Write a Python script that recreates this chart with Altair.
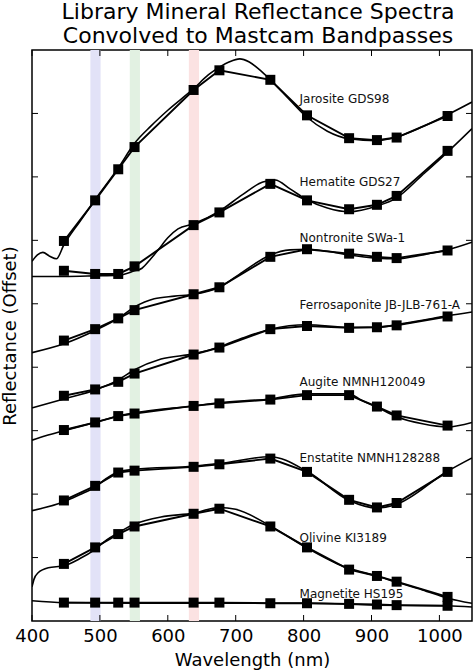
import altair as alt
import pandas as pd

# Mastcam filter centre wavelengths (nm)
FILTER_WL = [447, 493, 527, 551, 638, 676, 751, 805, 867, 908, 937, 1012]

# Library spectra (offset reflectance), sampled wavelengths and values
JAROSITE_WL = [400, 408, 416, 426, 436, 447, 470, 493, 527, 551, 575, 600, 638, 660, 676, 690,
               706, 720, 735, 751, 780, 805, 835, 867, 908, 937, 975, 1012, 1048]
JAROSITE_R = [5.67, 5.77, 5.81, 5.75, 5.71, 5.93, 6.29, 6.64, 7.14, 7.53, 7.80, 8.05, 8.39, 8.61,
              8.73, 8.81, 8.86, 8.81, 8.69, 8.53, 8.21, 7.94, 7.72, 7.60, 7.57, 7.63, 7.79, 7.98, 8.18]
JAROSITE_F = [5.99, 6.63, 7.12, 7.47, 8.37, 8.68, 8.53, 7.97, 7.61, 7.58, 7.62, 7.96]

HEMATITE_WL = [400, 447, 493, 527, 551, 562, 575, 586, 600, 615, 638, 676, 710, 740, 758, 780,
               805, 835, 867, 908, 937, 975, 1012, 1048]
HEMATITE_R = [5.43, 5.43, 5.44, 5.45, 5.52, 5.56, 5.71, 5.85, 6.04, 6.18, 6.26, 6.46, 6.72, 6.92,
              6.95, 6.81, 6.64, 6.51, 6.45, 6.54, 6.67, 7.03, 7.39, 7.76]
HEMATITE_F = [5.52, 5.47, 5.47, 5.59, 6.24, 6.44, 6.89, 6.63, 6.49, 6.56, 6.70, 7.41]

NONTRONITE_WL = [400, 447, 493, 527, 551, 580, 610, 638, 676, 710, 751, 780, 805, 840, 867, 908,
                 937, 975, 1012, 1048]
NONTRONITE_R = [4.23, 4.37, 4.58, 4.77, 4.95, 5.08, 5.12, 5.15, 5.26, 5.50, 5.77, 5.85, 5.86, 5.82,
                5.77, 5.72, 5.71, 5.77, 5.85, 5.97]
NONTRONITE_F = [4.42, 4.60, 4.77, 4.90, 5.15, 5.26, 5.74, 5.86, 5.79, 5.74, 5.72, 5.84]

FERROSAPONITE_WL = [400, 447, 493, 527, 551, 590, 638, 676, 710, 751, 805, 867, 908, 937, 975,
                    1012, 1048]
FERROSAPONITE_R = [3.36, 3.50, 3.64, 3.80, 3.96, 4.13, 4.21, 4.32, 4.46, 4.60, 4.67, 4.63, 4.63,
                   4.67, 4.74, 4.81, 4.87]
FERROSAPONITE_F = [3.55, 3.65, 3.77, 3.90, 4.20, 4.31, 4.60, 4.65, 4.62, 4.63, 4.66, 4.80]

AUGITE_WL = [400, 420, 447, 493, 527, 551, 638, 676, 751, 805, 867, 885, 908, 937, 975, 1012, 1048]
AUGITE_R = [2.85, 2.92, 3.00, 3.13, 3.23, 3.28, 3.39, 3.44, 3.50, 3.58, 3.58, 3.48, 3.37, 3.22,
            3.11, 3.06, 3.13]
AUGITE_F = [3.01, 3.13, 3.23, 3.27, 3.39, 3.43, 3.49, 3.56, 3.56, 3.38, 3.24, 3.08]

ENSTATITE_WL = [400, 447, 470, 493, 510, 527, 551, 638, 676, 751, 805, 867, 908, 937, 1012, 1048]
ENSTATITE_R = [1.74, 1.88, 1.99, 2.11, 2.25, 2.35, 2.39, 2.44, 2.48, 2.59, 2.36, 1.90, 1.78, 1.84,
               2.36, 2.57]
ENSTATITE_F = [1.90, 2.13, 2.34, 2.37, 2.43, 2.47, 2.56, 2.35, 1.91, 1.79, 1.86, 2.35]

OLIVINE_WL = [400, 403, 409, 424, 447, 470, 493, 510, 527, 551, 566, 590, 638, 676, 700, 751, 805,
              850, 867, 908, 937, 975, 1012, 1048]
OLIVINE_R = [0.54, 0.66, 0.76, 0.84, 0.87, 0.98, 1.13, 1.28, 1.39, 1.53, 1.58, 1.64, 1.70, 1.79,
             1.76, 1.50, 1.15, 0.90, 0.83, 0.71, 0.61, 0.49, 0.36, 0.28]
OLIVINE_F = [0.90, 1.16, 1.37, 1.49, 1.69, 1.77, 1.49, 1.16, 0.81, 0.71, 0.62, 0.38]

MAGNETITE_WL = [400, 447, 550, 676, 805, 908, 1012, 1048]
MAGNETITE_R = [0.32, 0.29, 0.28, 0.28, 0.28, 0.25, 0.24, 0.22]
MAGNETITE_F = [0.29, 0.29, 0.29, 0.29, 0.29, 0.29, 0.28, 0.28, 0.27, 0.26, 0.25, 0.24]

MINERALS = ["Jarosite GDS98", "Hematite GDS27", "Nontronite SWa-1", "Ferrosaponite JB-JLB-761-A",
            "Augite NMNH120049", "Enstatite NMNH128288", "Olivine KI3189", "Magnetite HS195"]
LABEL_R = [8.16, 6.86, 5.97, 4.91, 3.71, 2.51, 1.25, 0.37]
LABEL_WL = 794

# Highlighted filter passbands (blue, green, red)
BAND_LO = [486, 544, 631]
BAND_HI = [501, 559, 646]
BAND_NAME = ["blue", "green", "red"]
BAND_FILL = ["#e2e2f7", "#e2f1e2", "#fbe2e2"]

X_TICKS = [400, 500, 600, 700, 800, 900, 1000]
Y_TICKS = [1, 2, 3, 4, 5, 6, 7, 8]

W, H = 440, 571

spectra = [
    (JAROSITE_WL, JAROSITE_R, JAROSITE_F),
    (HEMATITE_WL, HEMATITE_R, HEMATITE_F),
    (NONTRONITE_WL, NONTRONITE_R, NONTRONITE_F),
    (FERROSAPONITE_WL, FERROSAPONITE_R, FERROSAPONITE_F),
    (AUGITE_WL, AUGITE_R, AUGITE_F),
    (ENSTATITE_WL, ENSTATITE_R, ENSTATITE_F),
    (OLIVINE_WL, OLIVINE_R, OLIVINE_F),
    (MAGNETITE_WL, MAGNETITE_R, MAGNETITE_F),
]

smooth_rows, filt_rows = [], []
for name, (wl, r, f) in zip(MINERALS, spectra):
    smooth_rows += [{"mineral": name, "wl": a, "r": b} for a, b in zip(wl, r)]
    filt_rows += [{"mineral": name, "wl": a, "r": b} for a, b in zip(FILTER_WL, f)]
smooth_df = pd.DataFrame(smooth_rows)
filt_df = pd.DataFrame(filt_rows)
label_df = pd.DataFrame({"mineral": MINERALS, "wl": [LABEL_WL] * len(MINERALS), "r": LABEL_R})
band_df = pd.DataFrame({"band": BAND_NAME, "wl": BAND_LO, "wl2": BAND_HI})
xtick_df = pd.DataFrame({"wl": X_TICKS})
ytick_df = pd.DataFrame({"r": Y_TICKS})

FONT = "DejaVu Sans"
xscale = alt.Scale(domain=[400, 1048], nice=False, zero=False)
yscale = alt.Scale(domain=[0, 9], nice=False, zero=False)
xaxis = alt.Axis(values=X_TICKS, format="d", ticks=False, domain=False, grid=False,
                 labelFont=FONT, labelFontSize=18, labelColor="black", labelPadding=6,
                 labelFlush=False, titleFont=FONT, titleFontSize=18, titleFontWeight="normal",
                 titleColor="black", titlePadding=6)
yaxis = alt.Axis(labels=False, ticks=False, domain=False, grid=False, titleFont=FONT,
                 titleFontSize=18, titleFontWeight="normal", titleColor="black", titlePadding=13)


def X(field="wl"):
    return alt.X(f"{field}:Q", scale=xscale, axis=xaxis, title="Wavelength (nm)")


def Y(field="r"):
    return alt.Y(f"{field}:Q", scale=yscale, axis=yaxis, title="Reflectance (Offset)")


bands = alt.Chart(band_df).mark_rect(opacity=1).encode(
    x=X(), x2="wl2:Q", y=alt.value(0), y2=alt.value(H),
    color=alt.Color("band:N", scale=alt.Scale(domain=BAND_NAME, range=BAND_FILL), legend=None),
)

smooth = alt.Chart(smooth_df).mark_line(
    color="black", strokeWidth=1.6, interpolate="monotone", clip=True
).encode(x=X(), y=Y(), detail="mineral:N", order="wl:Q")

filt_line = alt.Chart(filt_df).mark_line(color="black", strokeWidth=1.9, clip=True).encode(
    x=X(), y=Y(), detail="mineral:N", order="wl:Q"
)

squares = alt.Chart(filt_df).mark_point(
    shape="square", filled=True, size=100, color="black", opacity=1
).encode(x=X(), y=Y())

labels = alt.Chart(label_df).mark_text(
    align="left", baseline="alphabetic", font=FONT, fontSize=12, color="#111111"
).encode(x=X(), y=Y(), text="mineral:N")

tick_style = dict(color="black", strokeWidth=1)
xt_bottom = alt.Chart(xtick_df).mark_rule(**tick_style).encode(
    x=X(), y=alt.value(H), y2=alt.value(H - 6))
xt_top = alt.Chart(xtick_df).mark_rule(**tick_style).encode(
    x=X(), y=alt.value(0), y2=alt.value(6))
yt_left = alt.Chart(ytick_df).mark_rule(**tick_style).encode(
    y=Y(), x=alt.value(0), x2=alt.value(6))
yt_right = alt.Chart(ytick_df).mark_rule(**tick_style).encode(
    y=Y(), x=alt.value(W - 6), x2=alt.value(W))

chart = alt.layer(
    bands, smooth, filt_line, squares, labels, xt_bottom, xt_top, yt_left, yt_right
).properties(
    width=W, height=H,
    title=alt.TitleParams(
        ["Library Mineral Reflectance Spectra", "Convolved to Mastcam Bandpasses"],
        font=FONT, fontSize=22, fontWeight="normal", color="black", lineHeight=24,
        anchor="middle", dx=6, offset=2,
    ),
    autosize=alt.AutoSizeParams(type="none"),
    padding={"left": 32, "top": 50, "right": 2, "bottom": 50},
    background="white",
).configure_view(stroke="black", strokeWidth=1.5)

chart.save("out.html", embed_options={"renderer": "svg", "actions": False})
